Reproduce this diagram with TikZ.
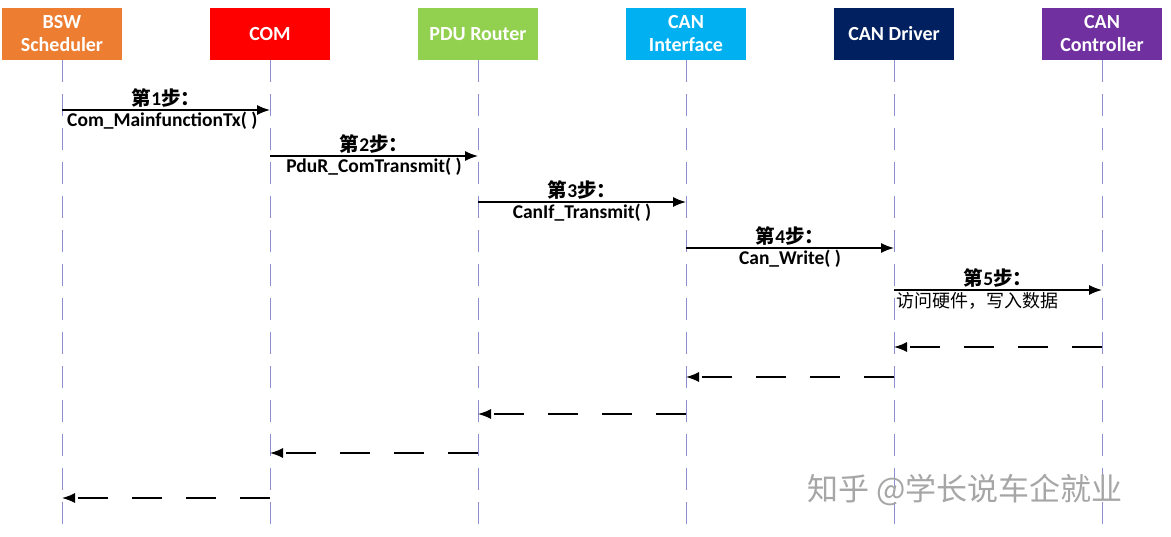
\documentclass[tikz,border=0pt]{standalone}
\usepackage{fontspec}
\setmainfont{Carlito}
\newfontfamily\cjk{Noto Sans CJK SC}
\usetikzlibrary{arrows.meta,calc}
\begin{document}
\begin{tikzpicture}[x=1pt,y=-1pt,
  hdr/.style={minimum width=120pt,minimum height=52pt,text=white,font=\bfseries\fontsize{20}{23}\selectfont,align=center,inner sep=0pt},
  life/.style={draw=black!40!blue!45!white,line width=0.8pt,dash pattern=on 22pt off 12pt},
  call/.style={-{Latex[length=13pt,width=10pt]},line width=1.4pt},
  ret/.style={-{Latex[length=13pt,width=10pt]},line width=1.4pt,dash pattern=on 30pt off 24pt},
  lab/.style={font=\bfseries\fontsize{19.5}{22}\selectfont,inner sep=2pt}]
\useasboundingbox (0,0) rectangle (1171,536);
\fill[white] (0,0) rectangle (1171,536);
\definecolor{c1}{HTML}{ED7D31}\definecolor{c2}{HTML}{FF0000}\definecolor{c3}{HTML}{92D050}
\definecolor{c4}{HTML}{00B0F0}\definecolor{c5}{HTML}{002060}\definecolor{c6}{HTML}{7030A0}
\foreach \i/\x/\c/\t in {1/62/c1/{BSW\\Scheduler},2/270/c2/{COM},3/478/c3/{PDU Router},4/686/c4/{CAN\\Interface},5/894/c5/{CAN Driver},6/1102/c6/{CAN\\Controller}}{
  \node[hdr,fill=\c] (h\i) at (\x,34) {\t};
  \coordinate (e\i) at (\x,530);
  \draw[life] (h\i.south) -- (e\i);
}
\foreach \i/\j/\y in {1/2/110,2/3/156,3/4/202,4/5/248,5/6/290}{
  \coordinate (a\i) at (h\i.south |- 0,\y);
  \coordinate (b\i) at (h\j.south |- 0,\y);
  \draw[call] (a\i) -- (b\i);
  \node[lab,above] (s\i) at ($(a\i)!0.5!(b\i)$) {{\cjk 第}\i{\cjk 步：}};
}
\node[lab,below right] (l1) at ([xshift=3pt]a1) {Com\_MainfunctionTx( )};
\node[lab,below] (l2) at ($(a2)!0.5!(b2)$) {PduR\_ComTransmit( )};
\node[lab,below] (l3) at ($(a3)!0.5!(b3)$) {CanIf\_Transmit( )};
\node[lab,below] (l4) at ($(a4)!0.5!(b4)$) {Can\_Write( )};
\node[font=\cjk\fontsize{18}{20}\selectfont,below right,inner sep=2pt] (l5) at (a5) {访问硬件，写入数据};
\foreach \i/\j/\y in {6/5/347,5/4/377,4/3/414,3/2/453,2/1/498}{
  \coordinate (r\i) at (h\i.south |- 0,\y);
  \coordinate (q\i) at (h\j.south |- 0,\y);
  \draw[ret] (r\i) -- (q\i);
}
\node[font=\cjk\fontsize{31}{33}\selectfont,text=black!35] (wm) at (965,490) {知乎 @学长说车企就业};
\end{tikzpicture}
\end{document}
